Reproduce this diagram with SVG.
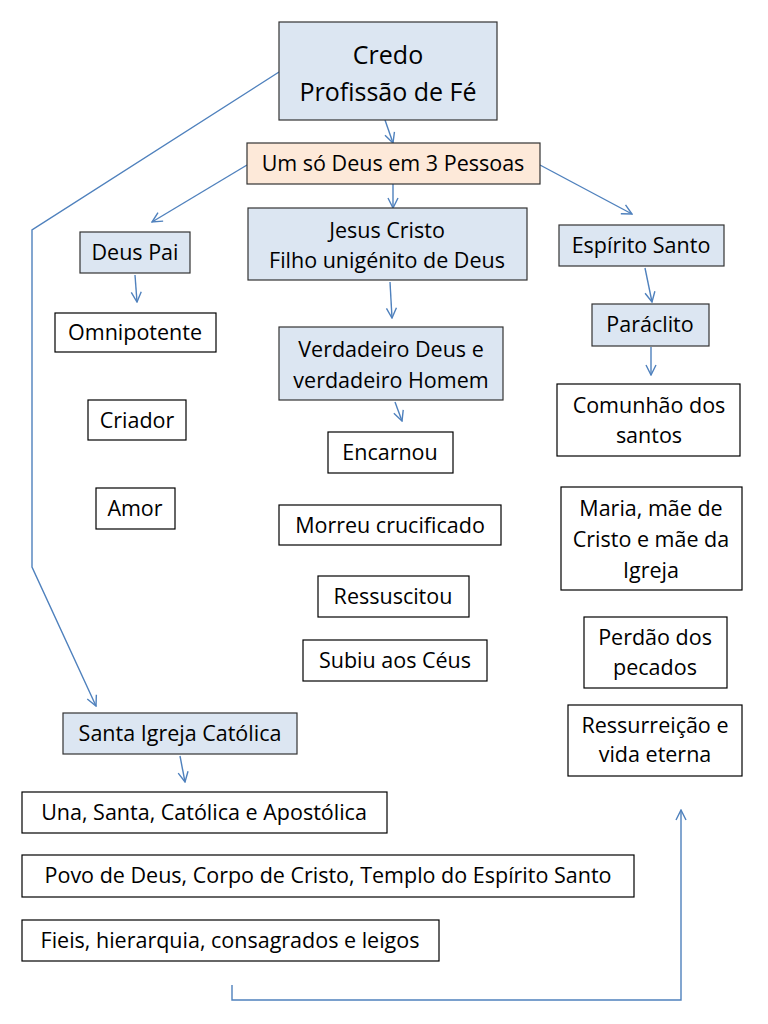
<svg xmlns="http://www.w3.org/2000/svg" width="768" height="1024" viewBox="0 0 768 1024">
<defs>
<style>
.b{fill:#dce6f2;stroke:#333;stroke-width:1.2}
.w{fill:#fff;stroke:#000;stroke-width:1.2}
.p{fill:#fde9d9;stroke:#333;stroke-width:1.2}
text{font-family:"Open Sans","Liberation Sans",sans-serif;font-size:21.5px;fill:#000;text-anchor:middle}
text.big{font-size:25px}
.c line,.c polyline{stroke:#4f81bd;stroke-width:1.4;fill:none;marker-end:url(#a)}
</style>
<marker id="a" viewBox="0 0 12 12" refX="11" refY="6" markerWidth="12" markerHeight="12" markerUnits="userSpaceOnUse" orient="auto"><path d="M1,1 L11,6 L1,11" fill="none" stroke="#4f81bd" stroke-width="1.4"/></marker>
</defs>
<rect width="768" height="1024" fill="#fff"/>
<g class="c">
<line x1="385" y1="120" x2="393" y2="143"/>
<line x1="247" y1="165" x2="152" y2="222"/>
<line x1="393" y1="184" x2="393" y2="208"/>
<line x1="540" y1="165" x2="632" y2="214"/>
<line x1="135" y1="275" x2="137" y2="302"/>
<line x1="390" y1="282" x2="392" y2="318"/>
<line x1="395" y1="402" x2="402" y2="421"/>
<line x1="645" y1="268" x2="652" y2="302"/>
<line x1="651" y1="347" x2="651" y2="375"/>
<polyline points="279,72 32,230 32,567 96,706"/>
<line x1="180" y1="756" x2="185" y2="782"/>
<polyline points="232,985 232,1000 681,1000 681,810"/>
</g>
<g id="credo"><rect class="b" x="279" y="22" width="218" height="98"/><text class="big" x="388" y="64">Credo</text><text class="big" x="388" y="101">Profissão de Fé</text></g>
<g id="umso"><rect class="p" x="247" y="143" width="293" height="41"/><text x="393" y="171">Um só Deus em 3 Pessoas</text></g>
<g id="jesus"><rect class="b" x="248" y="208" width="279" height="72"/><text x="387" y="238">Jesus Cristo</text><text x="387" y="268">Filho unigénito de Deus</text></g>
<g id="pai"><rect class="b" x="80" y="232" width="110" height="41"/><text x="135" y="260">Deus Pai</text></g>
<g id="espirito"><rect class="b" x="559" y="225" width="165" height="41"/><text x="641" y="253">Espírito Santo</text></g>
<g id="omni"><rect class="w" x="55" y="313" width="161" height="39"/><text x="135" y="340">Omnipotente</text></g>
<g id="criador"><rect class="w" x="88" y="400" width="98" height="40"/><text x="137" y="428">Criador</text></g>
<g id="amor"><rect class="w" x="96" y="488" width="79" height="41"/><text x="135" y="516">Amor</text></g>
<g id="verd"><rect class="b" x="279" y="327" width="224" height="73"/><text x="391" y="357">Verdadeiro Deus e</text><text x="391" y="388">verdadeiro Homem</text></g>
<g id="encarnou"><rect class="w" x="328" y="432" width="125" height="41"/><text x="390" y="460">Encarnou</text></g>
<g id="morreu"><rect class="w" x="279" y="505" width="222" height="40"/><text x="390" y="533">Morreu crucificado</text></g>
<g id="ress"><rect class="w" x="318" y="576" width="151" height="41"/><text x="393" y="604">Ressuscitou</text></g>
<g id="subiu"><rect class="w" x="303" y="640" width="184" height="41"/><text x="395" y="668">Subiu aos  Céus</text></g>
<g id="paraclito"><rect class="b" x="592" y="304" width="117" height="42"/><text x="650" y="332">Paráclito</text></g>
<g id="comunhao"><rect class="w" x="557" y="384" width="183" height="72"/><text x="649" y="413">Comunhão dos</text><text x="649" y="443">santos</text></g>
<g id="maria"><rect class="w" x="561" y="487" width="181" height="103"/><text x="651" y="516">Maria, mãe de</text><text x="651" y="547">Cristo e mãe da</text><text x="651" y="578">Igreja</text></g>
<g id="perdao"><rect class="w" x="584" y="617" width="143" height="71"/><text x="655" y="645">Perdão dos</text><text x="655" y="675">pecados</text></g>
<g id="ressurreicao"><rect class="w" x="568" y="705" width="174" height="71"/><text x="655" y="733">Ressurreição e</text><text x="655" y="762">vida eterna</text></g>
<g id="igreja"><rect class="b" x="63" y="713" width="234" height="41"/><text x="180" y="741">Santa Igreja Católica</text></g>
<g id="una"><rect class="w" x="22" y="792" width="365" height="41"/><text x="204" y="820">Una, Santa, Católica e Apostólica</text></g>
<g id="povo"><rect class="w" x="22" y="855" width="612" height="42"/><text x="328" y="883">Povo de Deus, Corpo de Cristo, Templo do Espírito Santo</text></g>
<g id="fieis"><rect class="w" x="22" y="920" width="417" height="41"/><text x="230" y="948">Fieis, hierarquia, consagrados e leigos</text></g>
</svg>
